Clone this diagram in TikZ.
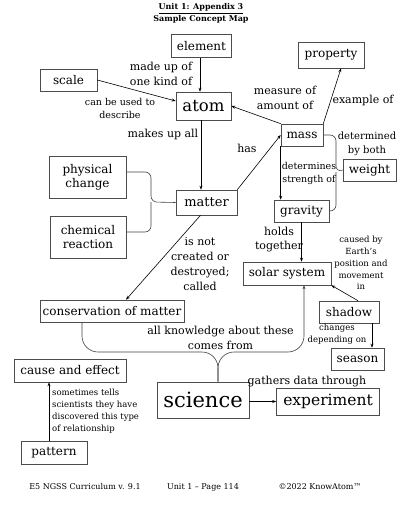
\documentclass[tikz,border=0pt]{standalone}
\usepackage{fontspec}
\setmainfont{DejaVu Serif}
\usetikzlibrary{arrows.meta}

\begin{document}
\begin{tikzpicture}[
		x=1pt, y=-1pt,
		box/.style={
			draw=black!70,
			line width=0.6pt,
			inner sep=2pt,
			align=center,
			font=\fontsize{12}{14}\selectfont
		},
		lbl/.style={align=center, inner sep=0pt, font=\fontsize{11}{14.5}\selectfont},
		midlbl/.style={align=center, inner sep=0pt, font=\fontsize{9.5}{13}\selectfont},
		smalllbl/.style={align=center, inner sep=0pt, font=\fontsize{8.5}{11.8}\selectfont},
		arrow/.style={-{Stealth[length=4pt,width=3pt]}, line width=0.6pt},
		link/.style={line width=0.6pt, black!75, rounded corners=6pt}
		]
		\useasboundingbox (0,0) rectangle (413,508);
		
		% Heading
		\node[font=\fontsize{8}{11.5}\selectfont\bfseries, align=center] (title) at (201,13.5)
		{\underline{Unit 1: Appendix 3}\\Sample Concept Map};
		
		% Concepts
		\node[box, minimum width=60, minimum height=23] (element) at (201.5,46) {element};
		\node[box, minimum width=66, minimum height=26] (property) at (331,55) {property};
		\node[box, minimum width=57, minimum height=22] (scale) at (68.5,80) {scale};
		\node[box, minimum width=55, minimum height=28, font=\fontsize{16.5}{18}\selectfont] (atom) at (203.5,106) {atom};
		\node[box, minimum width=42, minimum height=22] (mass) at (302,135) {mass};
		\node[box, minimum width=53, minimum height=22] (weight) at (369.5,170) {weight};
		\node[box, minimum width=77, minimum height=42] (physical) at (87.5,177) {physical\\change};
		\node[box, minimum width=61, minimum height=25, font=\fontsize{13}{15}\selectfont] (matter) at (206.5,202.5) {matter};
		\node[box, minimum width=55, minimum height=22] (gravity) at (301.5,211) {gravity};
		\node[box, minimum width=76, minimum height=42] (chemical) at (88,237) {chemical\\reaction};
		\node[box, minimum width=88, minimum height=23] (solar) at (287,273.5) {solar system};
		\node[box, minimum width=144, minimum height=22] (conservation) at (112,311) {conservation of matter};
		\node[box, minimum width=60, minimum height=22] (shadow) at (349,312) {shadow};
		\node[box, minimum width=53, minimum height=22] (season) at (357.5,359) {season};
		\node[box, minimum width=112, minimum height=23] (cause) at (70,370.5) {cause and effect};
		\node[box, minimum width=92, minimum height=36, font=\fontsize{21}{23}\selectfont] (science) at (203,400) {science};
		\node[box, minimum width=103, minimum height=27, font=\fontsize{15.5}{17}\selectfont] (experiment) at (328,401.5) {experiment};
		\node[box, minimum width=66, minimum height=23] (pattern) at (54,453) {pattern};
		
		% Links
		\draw[arrow] (element.south -| 200,0) -- (atom.north -| 200,0);
		\draw[arrow] (scale.east) -- ([yshift=5pt]atom.west);
		\draw[arrow] (mass.north west) -- (atom.east);
		\draw[arrow] (mass.north east) -- ([xshift=10pt]property.south);
		\draw[arrow] (atom.south -| 201,0) -- (matter.north -| 201,0);
		\draw[arrow] (matter.north east) -- (mass.west);
		\draw[arrow] (mass.south west) -- (mass.south west |- gravity.north);
		\draw[arrow] (gravity.south) -- (gravity.south |- solar.north);
		\draw[arrow] ([xshift=-6pt]matter.south) -- ([xshift=14pt]conservation.north);
		\draw[arrow] ([xshift=9pt]shadow.north) -- (solar.south east);
		\draw[arrow] ([xshift=23pt]shadow.south) -- ([xshift=23pt]shadow.south |- season.north);
		\draw[arrow] (science.east |- experiment.west) -- (experiment.west);
		\draw[arrow] ([xshift=-5pt]pattern.north) -- ([xshift=-5pt]pattern.north |- cause.south);
		
		% Brackets
		\coordinate (mbend) at (151,202);
		\draw[link] ([yshift=5pt]physical.east) -| (mbend) -- (matter.west);
		\draw[link] ([yshift=5pt]chemical.east) -| (mbend);
		\coordinate (wbend) at (336,172);
		\draw[link] (mass.east) -| (wbend) -- (weight.west);
		\draw[link] (gravity.east) -| (wbend);
		\coordinate (sjoin) at (218,352);
		\draw[link, rounded corners=16pt] ([xshift=-30pt]conservation.south) |- (sjoin) -- (science.north -| sjoin);
		\draw[link, arrow, rounded corners=16pt] (science.north -| sjoin) -- (sjoin) -| ([xshift=17pt]solar.south);
		
		% Link words
		\node[lbl] (l-made) at (161,74) {made up of\\one kind of};
		\node[midlbl] (l-scale) at (120,108) {can be used to\\describe};
		\node[lbl] (l-measure) at (285,98) {measure of\\amount of};
		\node[lbl] (l-example) at (363,100) {example of};
		\node[lbl] (l-makes) at (163,134) {makes up all};
		\node[lbl] (l-has) at (247,148) {has};
		\node[midlbl, font=\fontsize{10}{14}\selectfont] (l-both) at (367,144) {determined\\by both};
		\node[midlbl] (l-strength) at (309,173.5) {determines\\strength of};
		\node[lbl, font=\fontsize{11}{15}\selectfont] (l-notcreated) at (200,264.5) {is not\\created or\\destroyed;\\called};
		\node[lbl] (l-holds) at (279,239.5) {holds\\together};
		\node[smalllbl] (l-caused) at (361,263) {caused by\\Earth's\\position and\\movement\\in};
		\node[smalllbl] (l-changes) at (337,334) {changes\\depending on};
		\node[lbl] (l-knowledge) at (220.5,338) {all knowledge about these\\comes from};
		\node[lbl] (l-gathers) at (307,382) {gathers data through};
		\node[smalllbl, align=left, anchor=west] (l-sometimes) at (52,411) {sometimes tells\\scientists they have\\discovered this type\\of relationship};
		
		% Footer
		\node[font=\fontsize{8}{10}\selectfont] (foot-a) at (85,487) {E5 NGSS Curriculum v. 9.1};
		\node[font=\fontsize{8}{10}\selectfont] (foot-b) at (203,487) {Unit 1 – Page 114};
		\node[font=\fontsize{8}{10}\selectfont] (foot-c) at (320,487) {©2022 KnowAtom™};
		
	\end{tikzpicture}
\end{document}
